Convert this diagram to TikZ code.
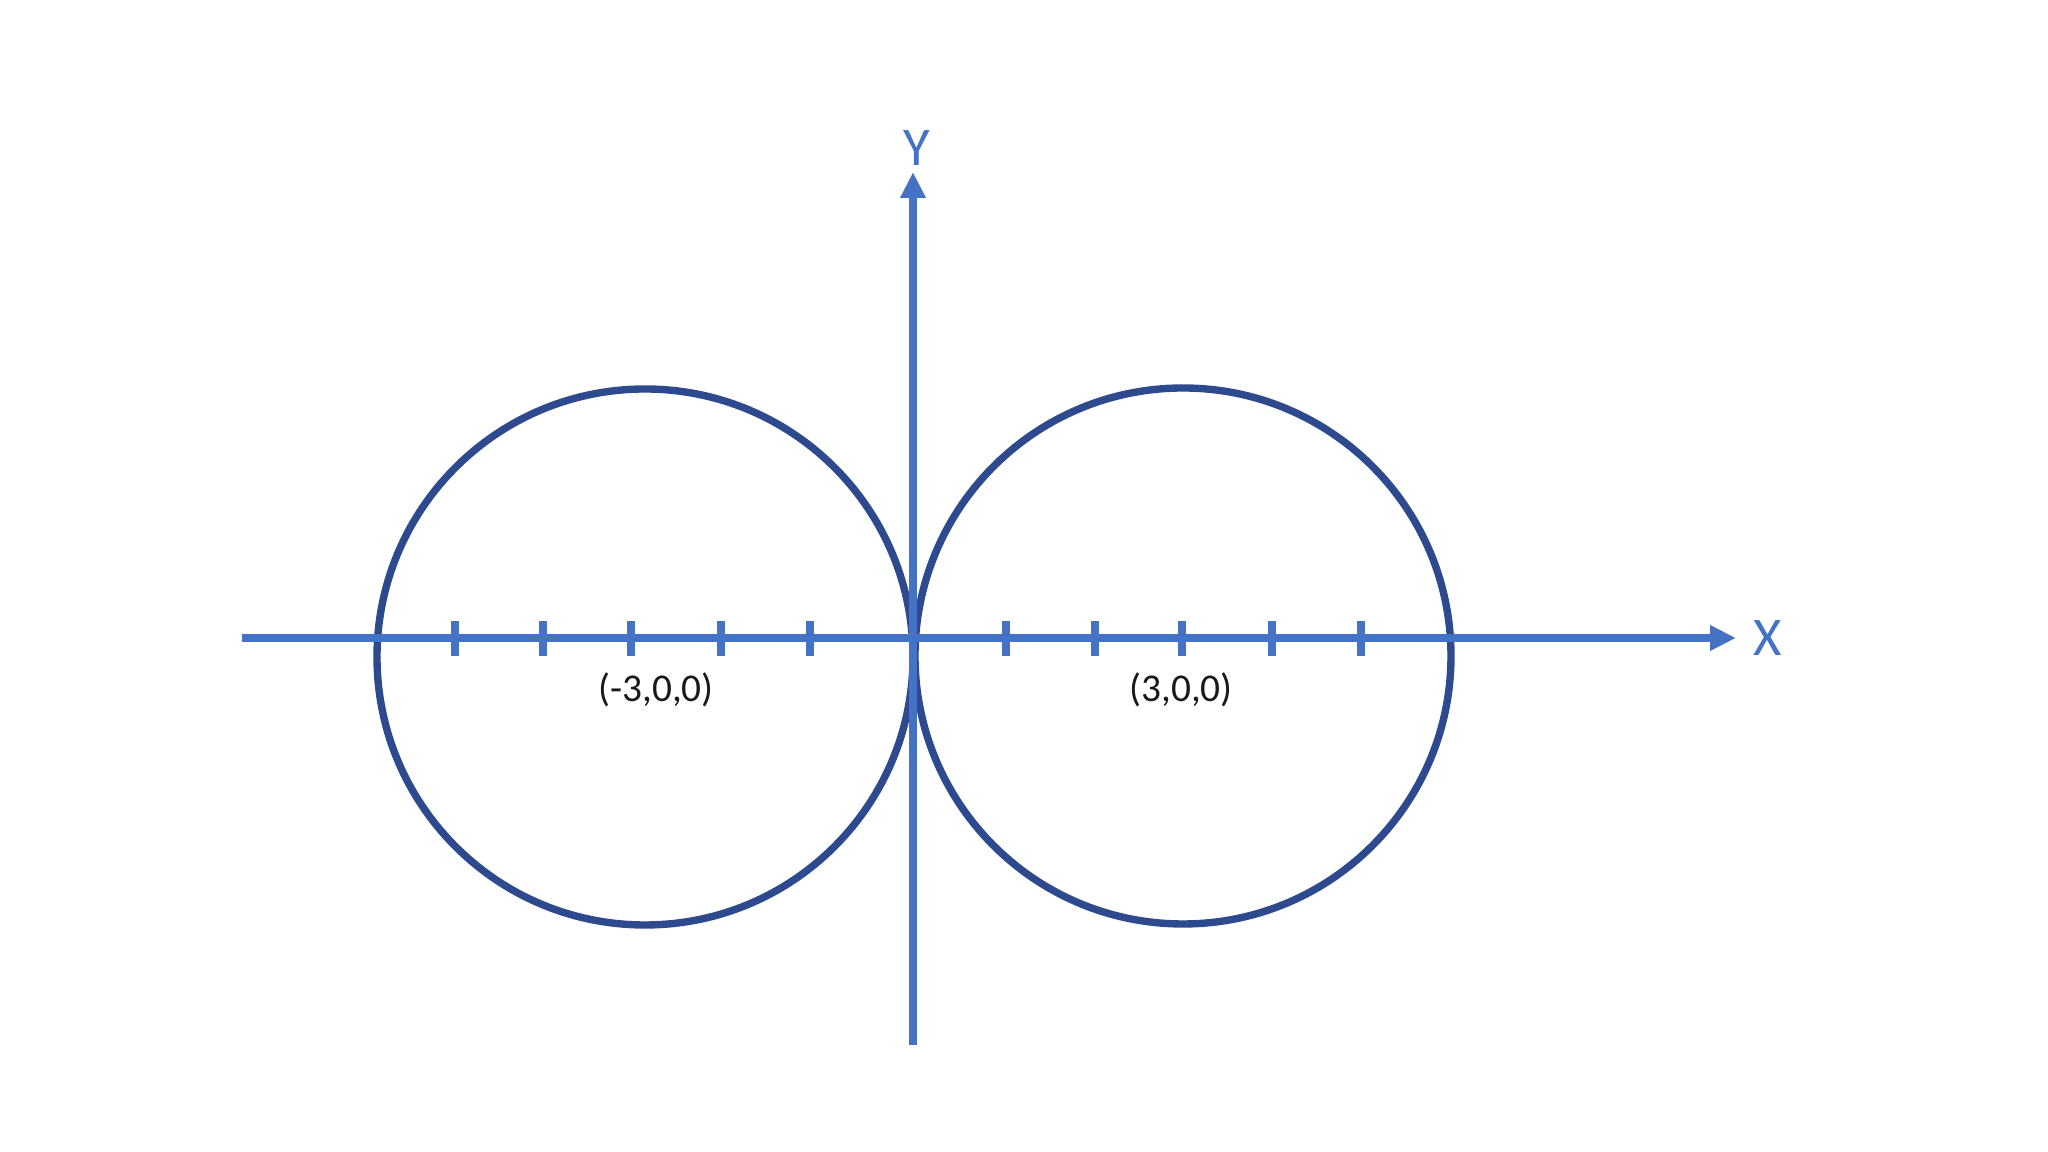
\documentclass[tikz,border=0pt]{standalone}
\usepackage{xcolor}
\usepackage{fontspec}
\setmainfont{Carlito}
\usetikzlibrary{arrows.meta,positioning}

\definecolor{axisblue}{HTML}{4472C4}
\definecolor{ringblue}{HTML}{2E4A8E}

\tikzset{
  axis/.style={line width=2.4pt,axisblue,-{Triangle[length=0.26cm,width=0.24cm]}},
  ring/.style={line width=2.1pt,ringblue},
  tick/.style={line width=2pt,axisblue},
  axislabel/.style={text=axisblue,font=\fontsize{15.5}{18}\selectfont},
  pointlabel/.style={text=black!90,font=\fontsize{11.2}{13}\selectfont}
}

\begin{document}
\begin{tikzpicture}
    \useasboundingbox[fill=white](0,0)rectangle(20.48,11.52);
    % axes
    \coordinate(xstart)at(2.42,5.14);
    \coordinate(xend)at(17.36,5.14);
    \coordinate(ystart)at(9.13,1.07);
    \coordinate(yend)at(9.13,9.80);
    \node[axislabel](xlabel)at(17.68,5.14){X};
    \node[axislabel](ylabel)at(9.17,10.04){Y};
    % circles
    \draw[ring](6.45,4.95)circle(2.68);
    \draw[ring](11.83,4.96)circle(2.68);
    \draw[axis](xstart)--(xend);
    \draw[axis](ystart)--(yend);
    % ticks
    \foreach \t in {4.55,5.43,6.31,7.21,8.10,10.06,10.95,11.82,12.72,13.61}
      \draw[tick](\t,4.96)--(\t,5.31);
    \node[pointlabel](leftcenter)at(6.56,4.62){(-3,0,0)};
    \node[pointlabel](rightcenter)at(11.81,4.62){(3,0,0)};
\end{tikzpicture}
\end{document}
